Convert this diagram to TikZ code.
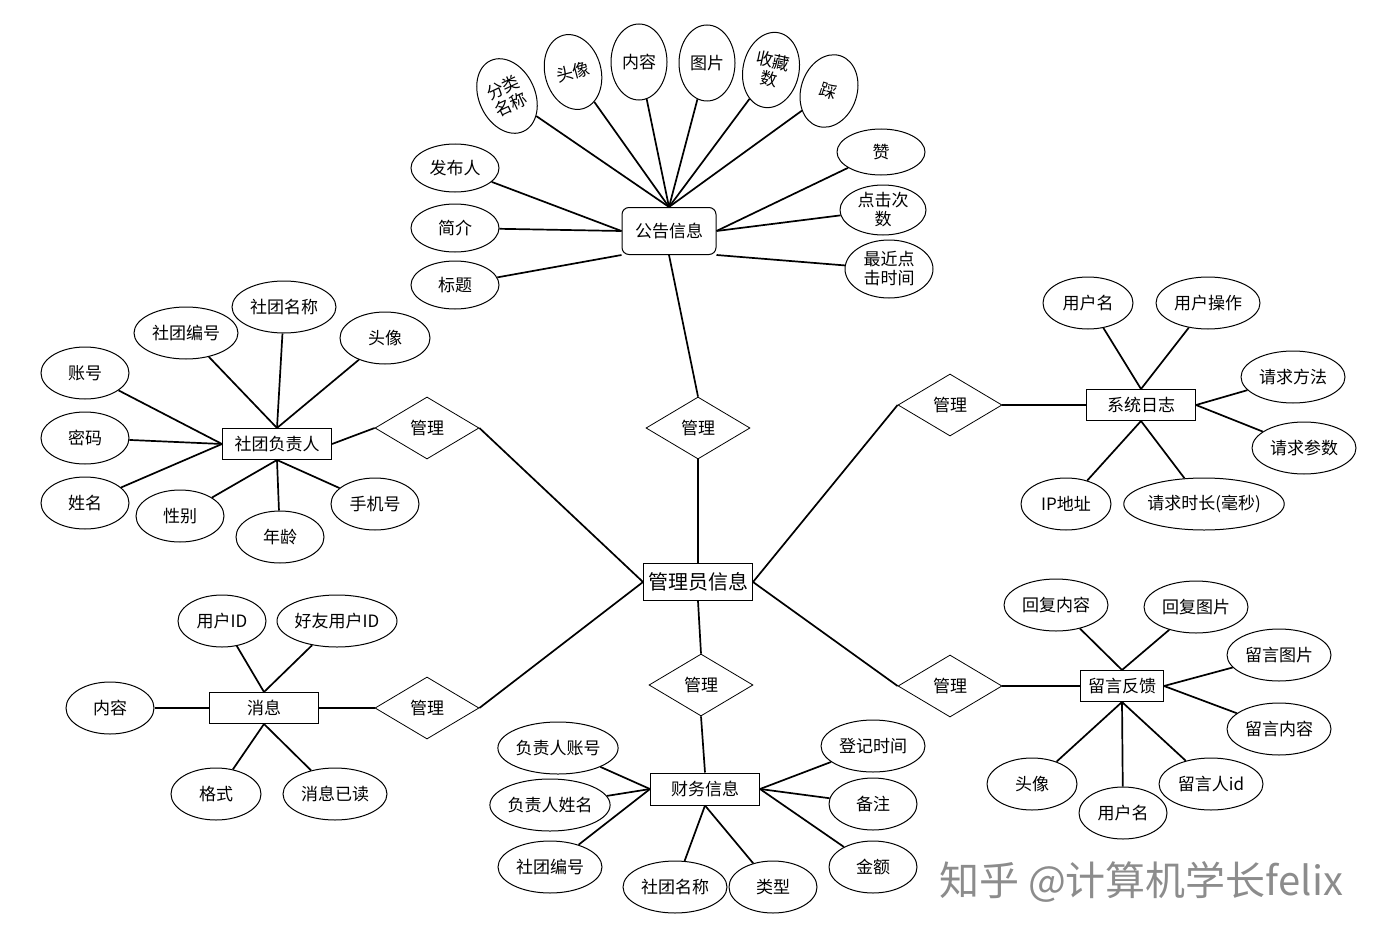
\documentclass[tikz,border=0pt]{standalone}
\usepackage{fontspec}
\newfontfamily\cjk{Noto Sans CJK SC}
\usetikzlibrary{shapes.geometric}
\begin{document}
\begin{tikzpicture}[x=1pt,y=-1pt,
 every node/.style={font=\cjk\fontsize{17}{19}\selectfont},
 attr/.style={draw, ellipse, line width=1pt, inner sep=0pt, minimum width=88pt, minimum height=52pt, align=center},
 wattr/.style={attr, minimum width=104pt},
 ent/.style={draw, rectangle, line width=1pt, inner sep=0pt, minimum width=109pt, minimum height=31pt},
 rel/.style={draw, diamond, line width=0.8pt, inner sep=0pt, minimum width=104pt, minimum height=62pt},
 link/.style={line width=1.7pt}]
\useasboundingbox (0,0) rectangle (1383,939);

% ---------- central ----------
\node[ent, minimum height=37pt, font=\cjk\fontsize{20}{22}\selectfont] (admin) at (698,582) {管理员信息};

% ---------- 公告信息 ----------
\node[ent, rounded corners=7pt, minimum width=94pt, minimum height=47pt] (gg) at (669,231) {公告信息};
\node[rel] (r1) at (698,428) {管理};
\node[attr, minimum width=56pt, minimum height=78pt, rotate=25] (g1) at (507,96) {分类\\名称};
\node[attr, minimum width=56pt, minimum height=76pt, rotate=15] (g2) at (573,72) {头像};
\node[attr, minimum width=56pt, minimum height=76pt] (g3) at (639,62) {内容};
\node[attr, minimum width=56pt, minimum height=76pt] (g4) at (707,63) {图片};
\node[attr, minimum width=56pt, minimum height=76pt, rotate=-12] (g5) at (771,70) {收藏\\数};
\node[attr, minimum width=56pt, minimum height=74pt, rotate=-18] (g6) at (829,91) {踩};
\node[attr, minimum height=48pt] (g7) at (455,168) {发布人};
\node[attr, minimum height=48pt] (g8) at (455,228) {简介};
\node[attr, minimum height=48pt] (g9) at (455,285) {标题};
\node[attr, minimum height=46pt] (g10) at (881,152) {赞};
\node[attr, minimum width=86pt, minimum height=50pt] (g11) at (883,210) {点击次\\数};
\node[attr, minimum height=58pt] (g12) at (889,269) {最近点\\击时间};
\foreach \n in {g1,g2,g3,g4,g5,g6} \draw[link] (\n) -- (gg.north);
\draw[link] (g7) -- (gg.west);
\draw[link] (g8) -- (gg.west);
\draw[link] (g9) -- (gg.south west);
\draw[link] (g10) -- (gg.east);
\draw[link] (g11) -- (gg.east);
\draw[link] (g12) -- (gg.south east);
\draw[link] (gg.south) -- (r1.north);
\draw[link] (r1.south) -- (admin.north);

% ---------- 社团负责人 ----------
\node[ent] (st) at (277,444) {社团负责人};
\node[rel] (r2) at (427,428) {管理};
\node[attr] (s1) at (85,373) {账号};
\node[attr] (s2) at (85,438) {密码};
\node[attr] (s3) at (85,503) {姓名};
\node[attr] (s4) at (180,516) {性别};
\node[attr] (s5) at (280,537) {年龄};
\node[attr] (s6) at (375,504) {手机号};
\node[wattr] (s7) at (186,333) {社团编号};
\node[wattr] (s8) at (284,307) {社团名称};
\node[attr, minimum width=90pt] (s9) at (385,338) {头像};
\foreach \n in {s1,s2,s3} \draw[link] (\n) -- (st.west);
\foreach \n in {s4,s5,s6} \draw[link] (\n) -- (st.south);
\foreach \n in {s7,s8,s9} \draw[link] (\n) -- (st.north);
\draw[link] (st.east) -- (r2.west);
\draw[link] (r2.east) -- (admin.west);

% ---------- 系统日志 ----------
\node[ent] (xt) at (1141,405) {系统日志};
\node[rel] (r3) at (950,405) {管理};
\node[attr, minimum width=90pt] (x1) at (1088,303) {用户名};
\node[wattr] (x2) at (1208,303) {用户操作};
\node[wattr] (x3) at (1293,377) {请求方法};
\node[wattr] (x4) at (1304,448) {请求参数};
\node[attr, minimum width=90pt] (x5) at (1066,504) {IP地址};
\node[attr, minimum width=156pt] (x6) at (1204,504) {请求时长(毫秒)};
\foreach \n in {x1,x2} \draw[link] (\n) -- (xt.north);
\foreach \n in {x3,x4} \draw[link] (\n) -- (xt.east);
\foreach \n in {x5,x6} \draw[link] (\n) -- (xt.south);
\draw[link] (r3.east) -- (xt.west);
\draw[link] (admin.east) -- (r3.west);

% ---------- 留言反馈 ----------
\node[ent, minimum width=83pt] (ly) at (1122,686) {留言反馈};
\node[rel] (r4) at (950,686) {管理};
\node[wattr] (l1) at (1056,605) {回复内容};
\node[wattr] (l2) at (1196,607) {回复图片};
\node[wattr] (l3) at (1279,655) {留言图片};
\node[wattr] (l4) at (1279,729) {留言内容};
\node[attr, minimum width=90pt] (l5) at (1032,784) {头像};
\node[attr] (l6) at (1123,813) {用户名};
\node[wattr] (l7) at (1211,784) {留言人id};
\foreach \n in {l1,l2} \draw[link] (\n) -- (ly.north);
\foreach \n in {l3,l4} \draw[link] (\n) -- (ly.east);
\foreach \n in {l5,l6,l7} \draw[link] (\n) -- (ly.south);
\draw[link] (r4.east) -- (ly.west);
\draw[link] (admin.east) -- (r4.west);

% ---------- 消息 ----------
\node[ent] (xx) at (264,708) {消息};
\node[rel] (r5) at (427,708) {管理};
\node[attr] (m1) at (110,708) {内容};
\node[attr] (m2) at (222,621) {用户ID};
\node[attr, minimum width=120pt] (m3) at (337,621) {好友用户ID};
\node[attr, minimum width=90pt] (m4) at (216,794) {格式};
\node[wattr] (m5) at (335,794) {消息已读};
\draw[link] (m1) -- (xx.west);
\foreach \n in {m2,m3} \draw[link] (\n) -- (xx.north);
\foreach \n in {m4,m5} \draw[link] (\n) -- (xx.south);
\draw[link] (xx.east) -- (r5.west);
\draw[link] (r5.east) -- (admin.west);

% ---------- 财务信息 ----------
\node[rel] (r6) at (701,685) {管理};
\node[ent, minimum height=32pt] (cw) at (705,789) {财务信息};
\node[attr, minimum width=120pt] (c1) at (558,748) {负责人账号};
\node[attr, minimum width=120pt] (c2) at (550,805) {负责人姓名};
\node[wattr] (c3) at (550,867) {社团编号};
\node[wattr] (c4) at (675,887) {社团名称};
\node[attr] (c5) at (773,887) {类型};
\node[wattr] (c6) at (873,746) {登记时间};
\node[attr] (c7) at (873,804) {备注};
\node[attr] (c8) at (873,867) {金额};
\draw[link] (admin.south) -- (r6.north);
\draw[link] (r6.south) -- (cw.north);
\foreach \n in {c1,c2,c3} \draw[link] (\n) -- (cw.west);
\foreach \n in {c4,c5} \draw[link] (\n) -- (cw.south);
\foreach \n in {c6,c7,c8} \draw[link] (\n) -- (cw.east);

% ---------- watermark ----------
\node[text=black!45, font=\cjk\fontsize{40}{44}\selectfont] (wm) at (1141,882) {知乎 @计算机学长felix};
\end{tikzpicture}
\end{document}
